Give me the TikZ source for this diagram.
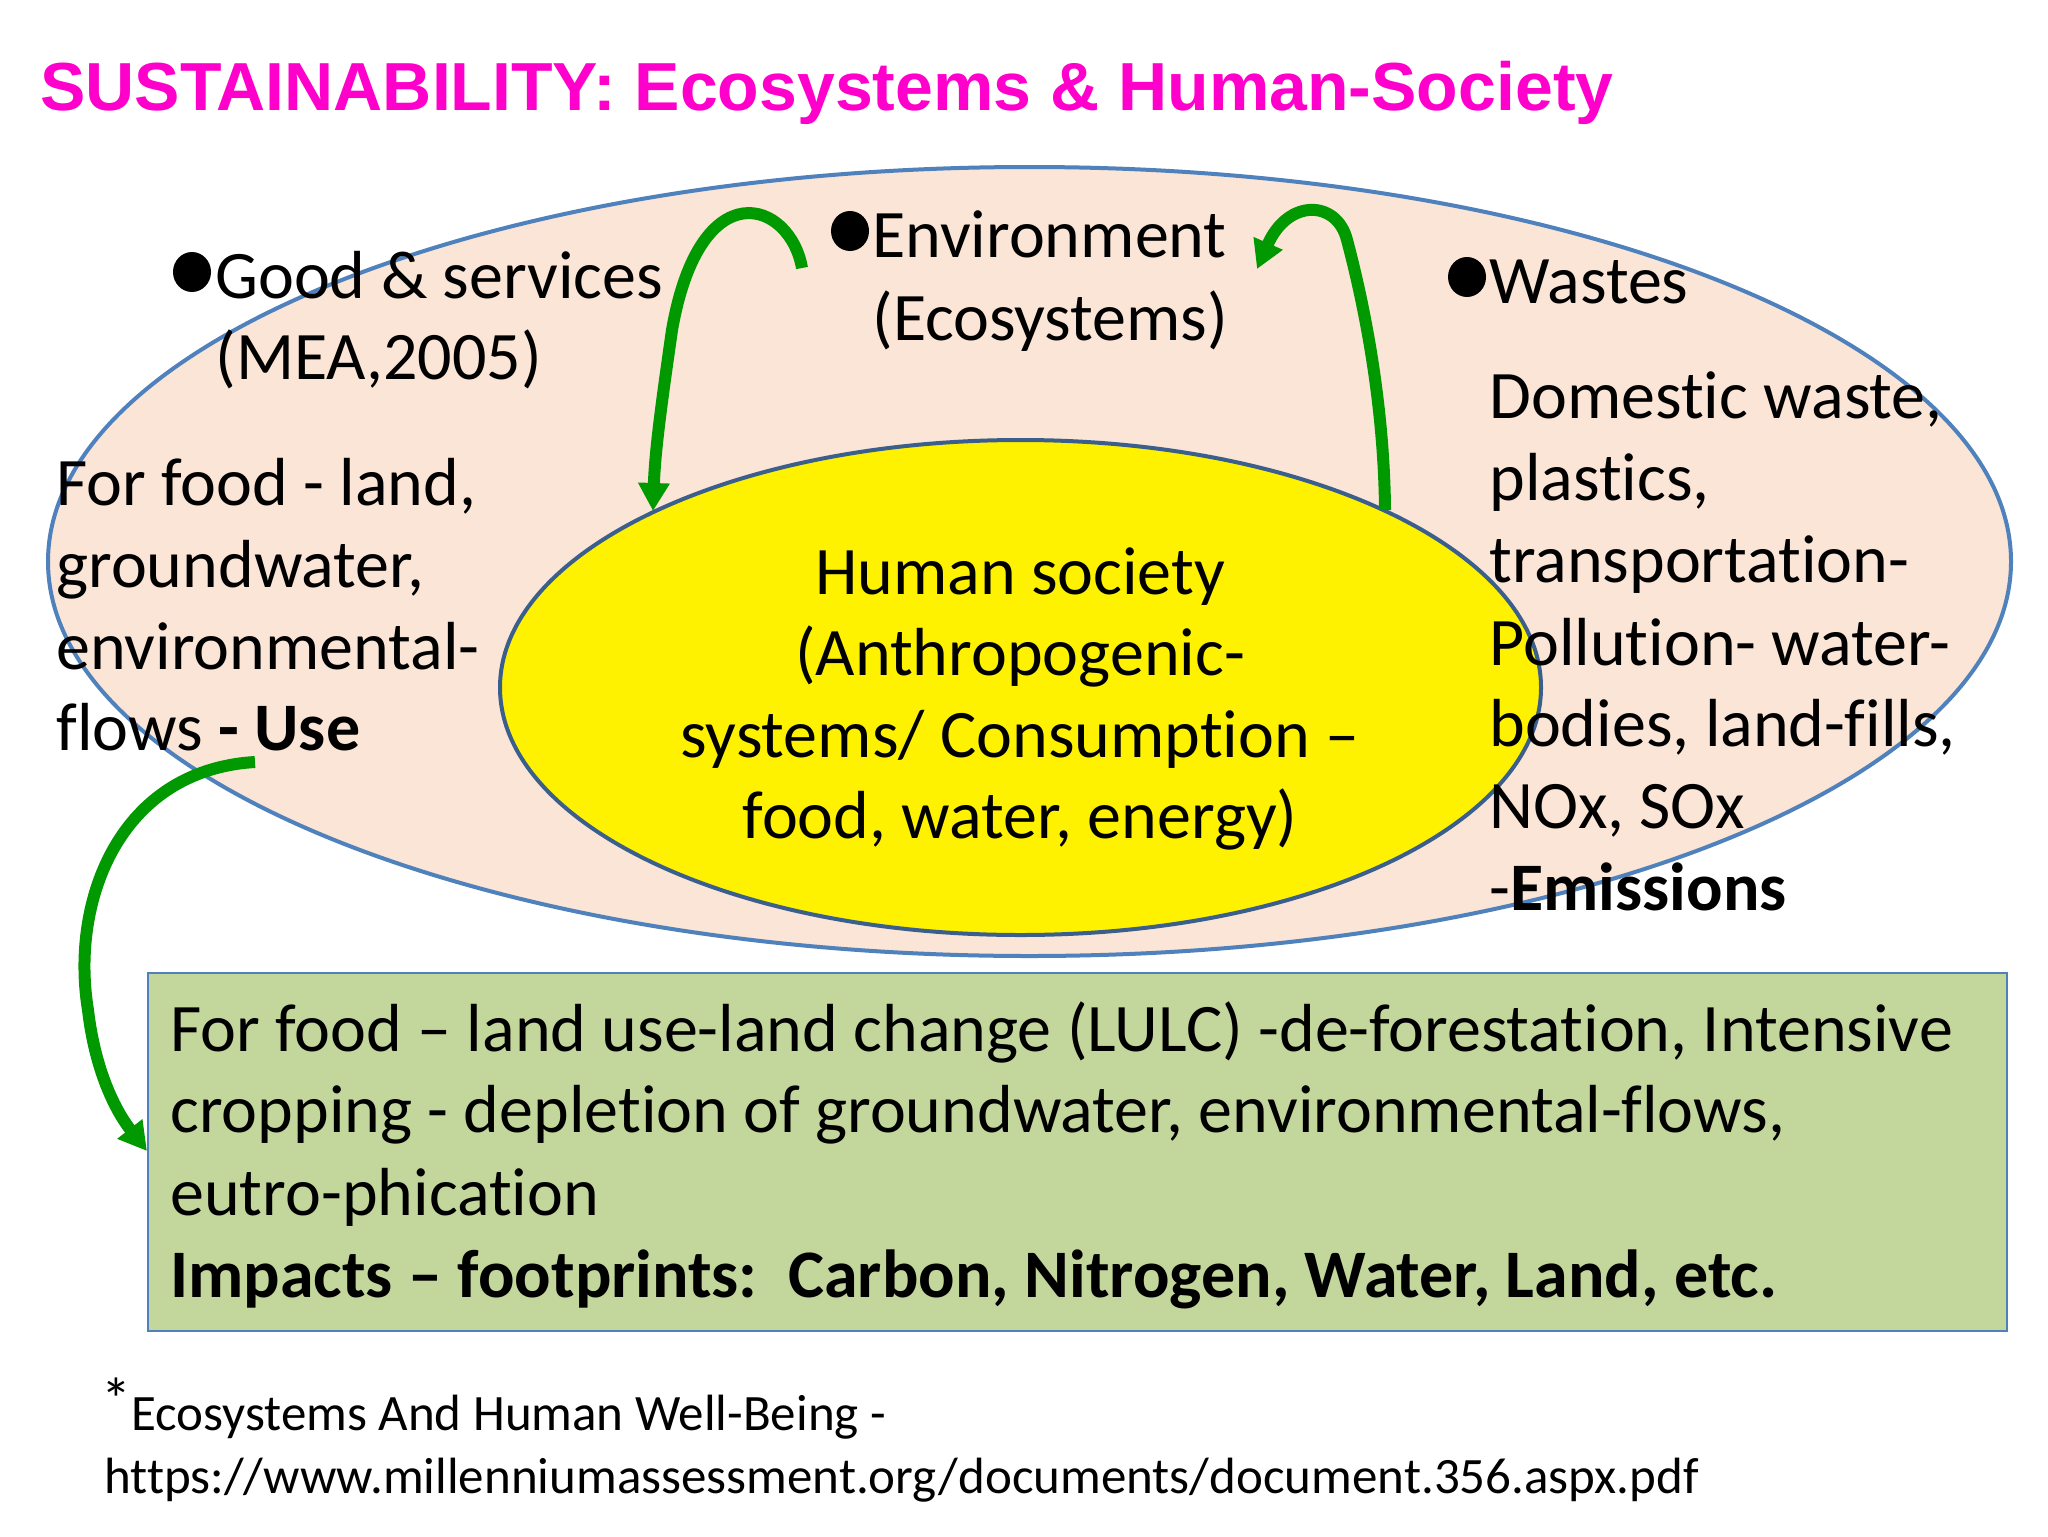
\documentclass[tikz,border=0pt]{standalone}
\usepackage{fontspec}
\setmainfont{Carlito}[Ligatures={NoCommon}]
\newfontfamily\titlefont{Liberation Sans}
\usetikzlibrary{arrows.meta,shapes.geometric}
\definecolor{peach}{HTML}{FBE5D6}
\definecolor{outerblue}{HTML}{4F81BD}
\definecolor{innerblue}{HTML}{3A5F8C}
\definecolor{boxgreen}{HTML}{C3D69B}
\definecolor{arrowgreen}{HTML}{009900}
\definecolor{titlemag}{HTML}{FF00CC}
\begin{document}
\begin{tikzpicture}[x=0.5pt,y=-0.5pt,
  txt/.style={anchor=base west, inner sep=0pt, font=\fontsize{34}{41}\selectfont},
  ctxt/.style={anchor=base, inner sep=0pt, font=\fontsize{34}{41}\selectfont},
  foot/.style={anchor=base west, inner sep=0pt, font=\fontsize{25.5}{31.5}\selectfont},
  flow/.style={draw=arrowgreen, line width=6pt, -{Triangle[length=14pt,width=15pt]}},
  dot/.style={ellipse, fill=black, draw=none, inner sep=0pt, minimum width=19pt, minimum height=20pt}
]
\useasboundingbox (0,0) rectangle (2048,1536);
\fill[white] (0,0) rectangle (2048,1536);

% title
\node[anchor=base west, inner sep=0pt, text=titlemag, font=\titlefont\bfseries\fontsize{34}{40}\selectfont] (title) at (40,111) {SUSTAINABILITY: Ecosystems \& Human-Society};

% ellipses
\node[ellipse, draw=outerblue, fill=peach, line width=2pt, inner sep=0pt, minimum width=981.5pt, minimum height=394.5pt] (env) at (1029.5,561.5) {};
\node[ellipse, draw=innerblue, fill=yellow, line width=2pt, inner sep=0pt, minimum width=520.5pt, minimum height=247.5pt] (soc) at (1020.5,687.5) {};

% green box
\node[draw=outerblue, fill=boxgreen, line width=1pt, inner sep=0pt, minimum width=929.5pt, minimum height=179pt] (box) at (1077.5,1152) {};

% bullets
\node[dot] (b1) at (192,272) {};
\node[dot] (b2) at (850,231) {};
\node[dot] (b3) at (1467,277) {};

% top labels
\node[txt] (g1) at (215,298) {Good \& services};
\node[txt] (g2) at (215,379) {(MEA,2005)};
\node[txt] (e1) at (872,257) {Environment};
\node[txt] (e2) at (872,340) {(Ecosystems)};
\node[txt] (w0) at (1489,303) {Wastes};

% left text
\node[txt] (l1) at (56,505) {For food - land,};
\node[txt] (l2) at (56,587) {groundwater,};
\node[txt] (l3) at (56,669) {environmental-};
\node[txt] (l4) at (56,750) {flows \textbf{- Use}};

% right text
\node[txt] (w1) at (1489,418) {Domestic waste,};
\node[txt] (w2) at (1489,500) {plastics,};
\node[txt] (w3) at (1489,582) {transportation-};
\node[txt] (w4) at (1489,665) {Pollution- water-};
\node[txt] (w5) at (1489,746) {bodies, land-fills,};
\node[txt] (w6) at (1489,828) {NOx, SOx};
\node[txt] (w7) at (1489,910) {-\textbf{Emissions}};

% center text
\node[ctxt] (c1) at (1020,594) {Human society};
\node[ctxt] (c2) at (1020,675) {(Anthropogenic-};
\node[ctxt] (c3) at (1020,757) {systems/ Consumption –};
\node[ctxt] (c4) at (1020,838) {food, water, energy)};

% box text
\node[txt] (x1) at (170,1051) {For food – land use-land change (LULC) -de-forestation, Intensive};
\node[txt] (x2) at (170,1132) {cropping - depletion of groundwater, environmental-flows,};
\node[txt] (x3) at (170,1215) {eutro-phication};
\node[txt] (x4) at (170,1297) {\textbf{Impacts – footprints:\ \ Carbon, Nitrogen, Water, Land, etc.}};

% footer
\node[foot] (f1) at (101,1430) {\raisebox{5pt}{\fontsize{30}{32}\selectfont *}Ecosystems And Human Well-Being -};
\node[foot] (f2) at (104,1493) {https://www.millenniumassessment.org/documents/document.356.aspx.pdf};

% arrow anchor points
\coordinate (envS) at (802,268);
\coordinate (socT) at (653,511);
\coordinate (socS) at (1385,510);
\coordinate (envE) at (1257,269);
\coordinate (useS) at (255,762);
\coordinate (boxL) at (147,1151);

% arrows
\draw[flow] (envS) .. controls (790,200) and (700,170) .. (672,330) .. controls (662,400) and (655,450) .. (socT);
\draw[flow] (socS) .. controls (1384,400) and (1363,300) .. (1347,240) .. controls (1337,200) and (1288,198) .. (envE);
\draw[flow] (useS) .. controls (120,770) and (70,900) .. (88,1010) .. controls (95,1070) and (115,1110) .. (boxL);
\end{tikzpicture}
\end{document}
